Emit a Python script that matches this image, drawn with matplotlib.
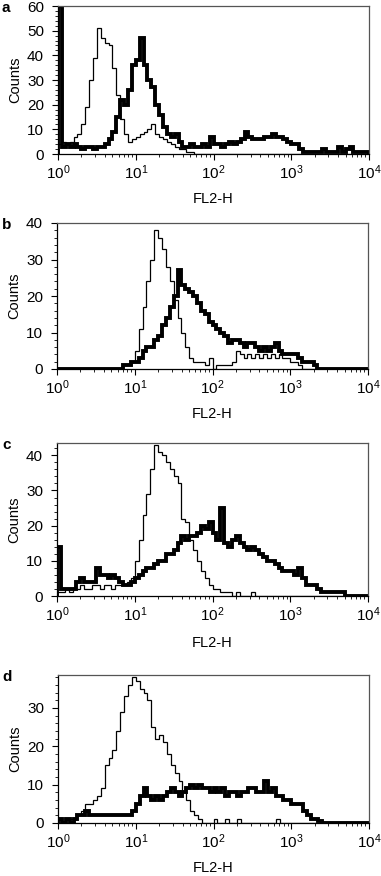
import matplotlib
matplotlib.use('Agg')
import matplotlib.pyplot as plt
import numpy as np
from matplotlib.ticker import FixedLocator, LogLocator, FuncFormatter, MultipleLocator, NullFormatter

plt.rcParams['font.family'] = ['Liberation Sans', 'DejaVu Sans']
plt.rcParams['mathtext.fontset'] = 'custom'
plt.rcParams['mathtext.rm'] = 'Liberation Sans'
plt.rcParams['mathtext.it'] = 'Liberation Sans:italic'
plt.rcParams['mathtext.bf'] = 'Liberation Sans:bold'

# FL2-H channel bins: 80 bins, 0.05 decade wide, from 10^0 to 10^4
fl2_edges = np.logspace(0, 4, 81)

# counts per bin (thin = control, thick = sample)
ctrl_a = [4, 5, 4, 5, 7, 8, 12, 19, 30, 39,
          51, 47, 45, 44, 35, 24, 14, 8, 5, 6,
          7, 8, 9, 10, 12, 8, 7, 6, 5, 4,
          3, 2, 2, 1, 1, 0, 0, 0, 0, 0,
          0, 0, 0, 0, 0, 0, 0, 0, 0, 0,
          0, 0, 0, 0, 0, 0, 0, 0, 0, 0,
          0, 0, 0, 0, 0, 0, 0, 0, 0, 0,
          0, 0, 0, 0, 0, 0, 0, 0, 0, 0]
sample_a = [60, 3, 4, 3, 4, 3, 2, 3, 3, 2,
            3, 3, 4, 6, 9, 15, 22, 20, 26, 36,
            38, 47, 36, 30, 27, 20, 16, 11, 8, 7,
            8, 5, 3, 3, 4, 3, 3, 4, 3, 7,
            4, 4, 3, 4, 5, 4, 5, 6, 9, 7,
            6, 6, 6, 7, 7, 8, 7, 7, 6, 5,
            4, 4, 2, 1, 1, 1, 1, 1, 2, 1,
            1, 1, 3, 1, 2, 3, 1, 1, 1, 1]

ctrl_b = [0, 0, 0, 0, 0, 0, 0, 0, 0, 0,
          0, 0, 0, 0, 0, 0, 0, 1, 1, 2,
          5, 11, 17, 24, 30, 38, 36, 33, 28, 24,
          19, 14, 10, 6, 3, 2, 2, 2, 1, 3,
          0, 1, 1, 1, 1, 2, 5, 4, 3, 4,
          3, 4, 3, 4, 3, 4, 3, 4, 3, 3,
          2, 2, 1, 0, 0, 0, 0, 0, 0, 0,
          0, 0, 0, 0, 0, 0, 0, 0, 0, 0]
sample_b = [0, 0, 0, 0, 0, 0, 0, 0, 0, 0,
            0, 0, 0, 0, 0, 0, 0, 1, 1, 2,
            2, 3, 5, 6, 6, 8, 9, 12, 14, 17,
            20, 27, 23, 22, 21, 20, 18, 16, 15, 13,
            12, 11, 10, 9, 7, 8, 8, 7, 6, 7,
            7, 6, 5, 6, 5, 6, 7, 5, 4, 4,
            4, 4, 3, 2, 2, 2, 1, 0, 0, 0,
            0, 0, 0, 0, 0, 0, 0, 0, 0, 0]

ctrl_c = [1, 1, 2, 1, 2, 2, 3, 2, 2, 3,
          3, 2, 3, 3, 2, 3, 3, 3, 4, 5,
          10, 16, 23, 29, 36, 43, 41, 40, 38, 36,
          34, 32, 22, 21, 16, 13, 10, 7, 5, 3,
          2, 2, 1, 1, 1, 0, 1, 0, 0, 0,
          1, 0, 0, 0, 0, 0, 0, 0, 0, 0,
          0, 0, 0, 0, 0, 0, 0, 0, 0, 0,
          0, 0, 0, 0, 0, 0, 0, 0, 0, 0]
sample_c = [14, 2, 2, 2, 2, 4, 5, 4, 4, 4,
            8, 6, 6, 5, 6, 5, 4, 3, 3, 4,
            5, 6, 7, 8, 8, 9, 10, 10, 12, 12,
            13, 15, 17, 16, 17, 17, 18, 20, 19, 21,
            18, 16, 25, 15, 14, 16, 17, 15, 14, 13,
            14, 13, 12, 11, 10, 10, 9, 8, 7, 7,
            7, 6, 8, 5, 3, 3, 3, 2, 1, 1,
            1, 1, 1, 1, 0, 0, 0, 0, 0, 0]

ctrl_d = [1, 0, 1, 1, 1, 2, 3, 5, 5, 6,
          7, 9, 15, 17, 19, 24, 29, 33, 36, 38,
          37, 35, 34, 32, 25, 22, 23, 21, 18, 15,
          13, 11, 8, 6, 3, 2, 1, 0, 0, 0,
          1, 0, 0, 1, 0, 0, 1, 0, 0, 0,
          0, 0, 0, 0, 0, 0, 1, 0, 0, 0,
          0, 0, 0, 0, 0, 0, 0, 0, 0, 0,
          0, 0, 0, 0, 0, 0, 0, 0, 0, 0]
sample_d = [1, 0, 1, 0, 1, 2, 2, 3, 2, 2,
            2, 2, 2, 2, 2, 2, 2, 2, 2, 3,
            5, 7, 9, 7, 6, 7, 6, 7, 8, 9,
            8, 7, 8, 9, 10, 9, 10, 9, 9, 8,
            9, 8, 9, 7, 8, 8, 7, 8, 8, 9,
            9, 8, 8, 11, 8, 9, 7, 7, 6, 6,
            5, 5, 5, 3, 2, 1, 1, 0.5, 0, 0,
            0, 0, 0, 0, 0, 0, 0, 0, 0, 0]

panels = [
    ('a', ctrl_a, sample_a, 60, [0, 10, 20, 30, 40, 50, 60], [58, 6, 369, 154]),
    ('b', ctrl_b, sample_b, 40, [0, 10, 20, 30, 40], [57, 223, 368, 369]),
    ('c', ctrl_c, sample_c, 43.5, [0, 10, 20, 30, 40], [57, 443, 368, 596]),
    ('d', ctrl_d, sample_d, 38.6, [0, 10, 20, 30], [58, 675, 369, 823]),
]

W, H = 381, 876
fig = plt.figure(figsize=(W / 100, H / 100), dpi=100)


def decade(v, pos):
    return r'$\mathregular{10^{%d}}$' % int(round(np.log10(v)))


for letter, ctrl, sample, ymax, yticks, (x0, y0, x1, y1) in panels:
    ax = fig.add_axes([x0 / W, 1 - y1 / H, (x1 - x0) / W, (y1 - y0) / H])
    ax.stairs(ctrl, fl2_edges, color='k', lw=0.9)
    ax.stairs(sample, fl2_edges, color='k', lw=2.8)
    ax.set_xscale('log')
    ax.set_xlim(1, 1e4)
    ax.set_ylim(0, ymax)

    ax.xaxis.set_major_locator(FixedLocator([1, 10, 100, 1000, 10000]))
    ax.xaxis.set_major_formatter(FuncFormatter(decade))
    ax.xaxis.set_minor_locator(LogLocator(base=10, subs=range(2, 10)))
    ax.xaxis.set_minor_formatter(NullFormatter())
    ax.yaxis.set_major_locator(FixedLocator(yticks))
    ax.yaxis.set_minor_locator(MultipleLocator(2))

    ax.tick_params(which='major', direction='out', length=4, width=0.8,
                   labelsize=11)
    ax.tick_params(which='minor', direction='out', length=2.5, width=0.6)
    ax.tick_params(axis='x', which='major', pad=3)
    ax.tick_params(axis='y', which='major', pad=6)

    for side in ['top', 'right']:
        ax.spines[side].set_color('#555555')
    for side in ['left', 'bottom']:
        ax.spines[side].set_color('k')
    for sp in ax.spines.values():
        sp.set_linewidth(0.9)

    ax.set_xlabel('FL2-H', fontsize=10.5)
    ax.xaxis.set_label_coords(0.5, -0.26)
    ax.set_ylabel('Counts', fontsize=10.5)
    ax.yaxis.set_label_coords(-0.115, 0.5)

    fig.text(2 / W, 1 - (y0 + 2) / H, letter, fontsize=11, fontweight='bold',
             ha='left', va='center')

fig.savefig('out.png', dpi=100, facecolor='white')
